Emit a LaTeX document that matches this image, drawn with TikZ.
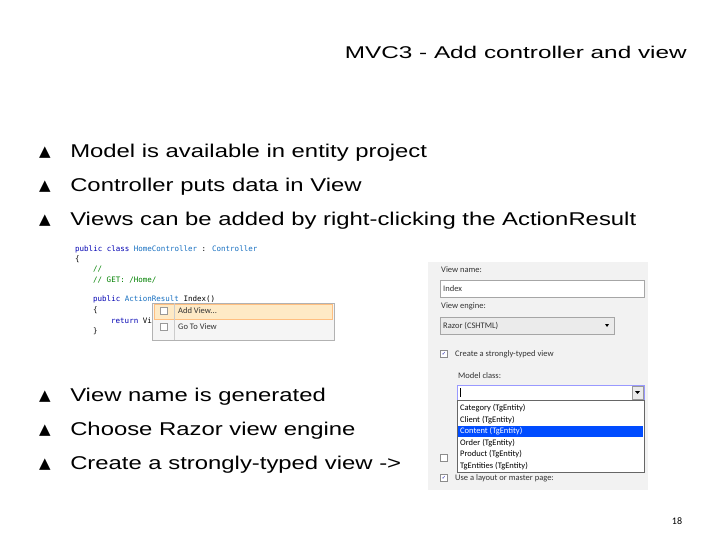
\documentclass[tikz,border=0pt]{standalone}
\usepackage{fontspec}
\setmainfont{Liberation Sans}
\newfontfamily\dv{DejaVu Sans}
\newfontfamily\cod{DejaVu Sans Mono}
\newfontfamily\ui{Carlito}
\begin{document}
\begin{tikzpicture}[x=1pt,y=-1pt,
 bul/.style={anchor=west,font=\fontsize{18.5}{22}\selectfont,xscale=1.29,transform shape,inner sep=0},
 tri/.style={anchor=west,font=\dv\fontsize{15}{15}\selectfont,inner sep=0},
 code/.style={anchor=west,font=\cod\fontsize{7.5}{8}\selectfont,inner sep=0},
 lab/.style={anchor=west,font=\ui\fontsize{8.5}{10}\selectfont,inner sep=0,text=black!80},
 box/.style={draw=black!35,fill=white},
 chk/.style={draw=black!45,fill=white,minimum size=7pt,inner sep=0,font=\dv\fontsize{5}{5}\selectfont,text=blue!60!black}]
\useasboundingbox (0,0) rectangle (728,546);
\node[anchor=east,font=\fontsize{17}{19}\selectfont,xscale=1.43,transform shape,inner sep=0] (title) at (687,52) {MVC3 - Add controller and view};
\foreach \y/\t [count=\i] in {153/Model is available in entity project,187/Controller puts data in View,221/Views can be added by right-clicking the ActionResult,397/View name is generated,431/Choose Razor view engine,465/Create a strongly-typed view ->}{
 \node[tri] (tr\i) at (39,\y) {▲};
 \node[bul] (b\i) at (70,\y) {\t};}
% code screenshot
\node[code,text=blue!70!black] (c1) at (75,249) {public class \textcolor{cyan!50!blue}{HomeController} \textcolor{black}{:} \textcolor{cyan!50!blue}{Controller}};
\node[code] (c2) at (75,259) {\{};
\node[code,text=green!50!black] (c3) at (93,269) {//};
\node[code,text=green!50!black] (c4) at (93,280) {// GET: /Home/};
\node[code,text=blue!70!black] (c5) at (93,299) {public \textcolor{cyan!50!blue}{ActionResult} \textcolor{black}{Index()}};
\node[code] (c6) at (93,310) {\{};
\node[code,text=blue!70!black] (c7) at (111,321) {return \textcolor{black}{Vi}};
\node[code] (c8) at (93,331) {\}};
\draw[fill=black!4,draw=black!30] (152,303) rectangle (334,340);
\draw[fill=yellow!25!orange!20,draw=orange!50] (154,304) rectangle (332,319);
\node[draw=black!40,fill=white,minimum size=7pt,inner sep=0] (i1) at (164,311) {};
\node[draw=black!40,fill=white,minimum size=7pt,inner sep=0] (i2) at (164,327) {};
\draw[black!20] (174,303) -- (174,340);
\node[lab] (m1) at (178,311) {Add View...};
\node[lab] (m2) at (178,327) {Go To View};
% dialog
\fill[black!5] (428,262) rectangle (648,490);
\node[lab] (l1) at (441,270) {View name:};
\draw[box] (440,280) rectangle (644,297);
\node[lab] (v1) at (443,289) {Index};
\node[lab] (l2) at (441,306) {View engine:};
\draw[box,fill=black!8] (440,317) rectangle (614,334);
\node[lab] (v2) at (443,326) {Razor (CSHTML)};
\fill (605,324) -- (609,324) -- (607,327) -- cycle;
\node[chk] (k1) at (444,354) {✓};
\node[lab] (l3) at (455,354) {Create a strongly-typed view};
\node[lab] (l4) at (458,376) {Model class:};
\draw[box,draw=blue!40] (457,385) rectangle (644,400);
\draw (460,388) -- (460,397);
\draw[fill=black!8,draw=black!40] (632,386) rectangle (643,399);
\fill (635,391) -- (640,391) -- (637.5,394) -- cycle;
\node[chk] (k2) at (444,458) {};
\node[chk] (k3) at (444,478) {✓};
\node[lab] (l5) at (455,478) {Use a layout or master page:};
\draw[fill=white,draw=black!60] (457,400) rectangle (644,472);
\fill[blue!70!cyan] (458,426) rectangle (643,437);
\foreach \y/\t/\c [count=\i] in {408/Category (TgEntity)/black,420/Client (TgEntity)/black,431/Content (TgEntity)/white,443/Order (TgEntity)/black,454/Product (TgEntity)/black,466/TgEntities (TgEntity)/black}
 \node[lab,text=\c] (o\i) at (460,\y) {\t};
\node[font=\ui\fontsize{10}{12}\selectfont] (pg) at (677,521) {18};
\end{tikzpicture}
\end{document}
